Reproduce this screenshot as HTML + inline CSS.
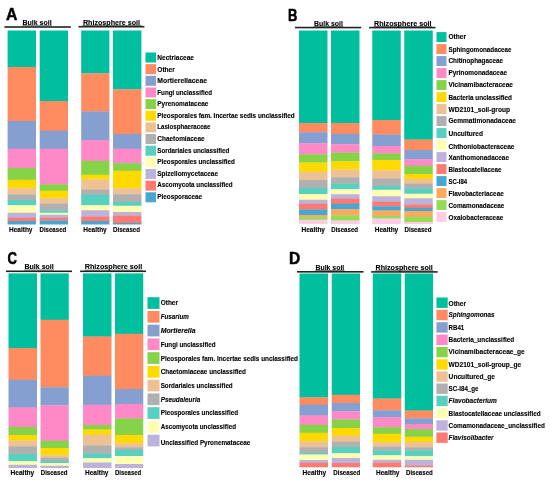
<!DOCTYPE html>
<html><head><meta charset="utf-8"><title>Figure</title>
<style>
html,body{margin:0;padding:0;background:#fff;}
body{width:550px;height:480px;overflow:hidden;}
svg{display:block;}
svg text{font-family:"Liberation Sans",sans-serif;font-weight:bold;}
</style></head><body>
<svg width="550" height="480" viewBox="0 0 550 480">
<rect x="0" y="0" width="550" height="480" fill="#ffffff"/>
<rect x="7.60" y="30.50" width="28.40" height="36.80" fill="#00BF9F"/>
<rect x="7.60" y="67.00" width="28.40" height="54.30" fill="#FF8C61"/>
<rect x="7.60" y="121.00" width="28.40" height="28.05" fill="#859FD0"/>
<rect x="7.60" y="148.75" width="28.40" height="19.55" fill="#FF89C6"/>
<rect x="7.60" y="168.00" width="28.40" height="12.05" fill="#86D34A"/>
<rect x="7.60" y="179.75" width="28.40" height="8.80" fill="#FFD900"/>
<rect x="7.60" y="188.25" width="28.40" height="6.55" fill="#EEC194"/>
<rect x="7.60" y="194.50" width="28.40" height="5.80" fill="#B0B0B0"/>
<rect x="7.60" y="200.00" width="28.40" height="5.55" fill="#57D0C0"/>
<rect x="7.60" y="205.25" width="28.40" height="7.80" fill="#FFFFB3"/>
<rect x="7.60" y="212.75" width="28.40" height="5.30" fill="#BDB2DC"/>
<rect x="7.60" y="217.75" width="28.40" height="3.55" fill="#FF7A70"/>
<rect x="7.60" y="221.00" width="28.40" height="3.50" fill="#48A7D2"/>
<rect x="39.70" y="30.50" width="28.30" height="70.80" fill="#00BF9F"/>
<rect x="39.70" y="101.00" width="28.30" height="30.05" fill="#FF8C61"/>
<rect x="39.70" y="130.75" width="28.30" height="18.30" fill="#859FD0"/>
<rect x="39.70" y="148.75" width="28.30" height="35.80" fill="#FF89C6"/>
<rect x="39.70" y="184.25" width="28.30" height="6.80" fill="#86D34A"/>
<rect x="39.70" y="190.75" width="28.30" height="7.80" fill="#FFD900"/>
<rect x="39.70" y="198.25" width="28.30" height="5.80" fill="#EEC194"/>
<rect x="39.70" y="203.75" width="28.30" height="6.80" fill="#B0B0B0"/>
<rect x="39.70" y="210.25" width="28.30" height="2.80" fill="#57D0C0"/>
<rect x="39.70" y="212.75" width="28.30" height="2.30" fill="#FFFFB3"/>
<rect x="39.70" y="214.75" width="28.30" height="3.30" fill="#BDB2DC"/>
<rect x="39.70" y="217.75" width="28.30" height="3.05" fill="#FF7A70"/>
<rect x="39.70" y="220.50" width="28.30" height="4.00" fill="#48A7D2"/>
<rect x="81.20" y="30.50" width="28.20" height="43.05" fill="#00BF9F"/>
<rect x="81.20" y="73.25" width="28.20" height="38.55" fill="#FF8C61"/>
<rect x="81.20" y="111.50" width="28.20" height="28.90" fill="#859FD0"/>
<rect x="81.20" y="140.10" width="28.20" height="20.95" fill="#FF89C6"/>
<rect x="81.20" y="160.75" width="28.20" height="14.30" fill="#86D34A"/>
<rect x="81.20" y="174.75" width="28.20" height="5.05" fill="#FFD900"/>
<rect x="81.20" y="179.50" width="28.20" height="10.55" fill="#EEC194"/>
<rect x="81.20" y="189.75" width="28.20" height="5.30" fill="#B0B0B0"/>
<rect x="81.20" y="194.75" width="28.20" height="10.80" fill="#57D0C0"/>
<rect x="81.20" y="205.25" width="28.20" height="5.30" fill="#FFFFB3"/>
<rect x="81.20" y="210.25" width="28.20" height="6.55" fill="#BDB2DC"/>
<rect x="81.20" y="216.50" width="28.20" height="4.80" fill="#FF7A70"/>
<rect x="81.20" y="221.00" width="28.20" height="3.50" fill="#48A7D2"/>
<rect x="113.00" y="30.50" width="28.40" height="59.05" fill="#00BF9F"/>
<rect x="113.00" y="89.25" width="28.40" height="45.05" fill="#FF8C61"/>
<rect x="113.00" y="134.00" width="28.40" height="15.05" fill="#859FD0"/>
<rect x="113.00" y="148.75" width="28.40" height="14.80" fill="#FF89C6"/>
<rect x="113.00" y="163.25" width="28.40" height="7.80" fill="#86D34A"/>
<rect x="113.00" y="170.75" width="28.40" height="17.80" fill="#FFD900"/>
<rect x="113.00" y="188.25" width="28.40" height="6.30" fill="#EEC194"/>
<rect x="113.00" y="194.25" width="28.40" height="8.05" fill="#B0B0B0"/>
<rect x="113.00" y="202.00" width="28.40" height="4.05" fill="#57D0C0"/>
<rect x="113.00" y="205.75" width="28.40" height="6.55" fill="#FFFFB3"/>
<rect x="113.00" y="212.00" width="28.40" height="3.80" fill="#BDB2DC"/>
<rect x="113.00" y="215.50" width="28.40" height="7.80" fill="#FF7A70"/>
<rect x="113.00" y="223.00" width="28.40" height="1.50" fill="#48A7D2"/>
<rect x="299.00" y="30.50" width="28.50" height="92.80" fill="#00BF9F"/>
<rect x="299.00" y="123.00" width="28.50" height="9.55" fill="#FF8C61"/>
<rect x="299.00" y="132.25" width="28.50" height="11.30" fill="#859FD0"/>
<rect x="299.00" y="143.25" width="28.50" height="11.30" fill="#FF89C6"/>
<rect x="299.00" y="154.25" width="28.50" height="8.55" fill="#86D34A"/>
<rect x="299.00" y="162.50" width="28.50" height="9.55" fill="#FFD900"/>
<rect x="299.00" y="171.75" width="28.50" height="8.55" fill="#EEC194"/>
<rect x="299.00" y="180.00" width="28.50" height="8.30" fill="#B0B0B0"/>
<rect x="299.00" y="188.00" width="28.50" height="6.30" fill="#57D0C0"/>
<rect x="299.00" y="194.00" width="28.50" height="6.05" fill="#FFFFB3"/>
<rect x="299.00" y="199.75" width="28.50" height="4.30" fill="#BDB2DC"/>
<rect x="299.00" y="203.75" width="28.50" height="6.05" fill="#FF7A70"/>
<rect x="299.00" y="209.50" width="28.50" height="5.80" fill="#48A7D2"/>
<rect x="299.00" y="215.00" width="28.50" height="2.55" fill="#FFA95F"/>
<rect x="299.00" y="217.25" width="28.50" height="2.80" fill="#93DC55"/>
<rect x="299.00" y="219.75" width="28.50" height="4.25" fill="#FFCBE5"/>
<rect x="331.00" y="30.50" width="28.50" height="92.80" fill="#00BF9F"/>
<rect x="331.00" y="123.00" width="28.50" height="11.05" fill="#FF8C61"/>
<rect x="331.00" y="133.75" width="28.50" height="10.80" fill="#859FD0"/>
<rect x="331.00" y="144.25" width="28.50" height="8.55" fill="#FF89C6"/>
<rect x="331.00" y="152.50" width="28.50" height="9.05" fill="#86D34A"/>
<rect x="331.00" y="161.25" width="28.50" height="8.55" fill="#FFD900"/>
<rect x="331.00" y="169.50" width="28.50" height="8.05" fill="#EEC194"/>
<rect x="331.00" y="177.25" width="28.50" height="6.55" fill="#B0B0B0"/>
<rect x="331.00" y="183.50" width="28.50" height="6.05" fill="#57D0C0"/>
<rect x="331.00" y="189.25" width="28.50" height="5.30" fill="#FFFFB3"/>
<rect x="331.00" y="194.25" width="28.50" height="4.80" fill="#BDB2DC"/>
<rect x="331.00" y="198.75" width="28.50" height="5.30" fill="#FF7A70"/>
<rect x="331.00" y="203.75" width="28.50" height="5.80" fill="#48A7D2"/>
<rect x="331.00" y="209.25" width="28.50" height="6.30" fill="#FFA95F"/>
<rect x="331.00" y="215.25" width="28.50" height="5.55" fill="#93DC55"/>
<rect x="331.00" y="220.50" width="28.50" height="3.50" fill="#FFCBE5"/>
<rect x="372.25" y="30.50" width="28.50" height="89.80" fill="#00BF9F"/>
<rect x="372.25" y="120.00" width="28.50" height="14.80" fill="#FF8C61"/>
<rect x="372.25" y="134.50" width="28.50" height="11.80" fill="#859FD0"/>
<rect x="372.25" y="146.00" width="28.50" height="7.80" fill="#FF89C6"/>
<rect x="372.25" y="153.50" width="28.50" height="6.80" fill="#86D34A"/>
<rect x="372.25" y="160.00" width="28.50" height="10.55" fill="#FFD900"/>
<rect x="372.25" y="170.25" width="28.50" height="8.55" fill="#EEC194"/>
<rect x="372.25" y="178.50" width="28.50" height="7.80" fill="#B0B0B0"/>
<rect x="372.25" y="186.00" width="28.50" height="4.05" fill="#57D0C0"/>
<rect x="372.25" y="189.75" width="28.50" height="6.80" fill="#FFFFB3"/>
<rect x="372.25" y="196.25" width="28.50" height="5.80" fill="#BDB2DC"/>
<rect x="372.25" y="201.75" width="28.50" height="4.80" fill="#FF7A70"/>
<rect x="372.25" y="206.25" width="28.50" height="4.55" fill="#48A7D2"/>
<rect x="372.25" y="210.50" width="28.50" height="5.55" fill="#FFA95F"/>
<rect x="372.25" y="215.75" width="28.50" height="3.05" fill="#93DC55"/>
<rect x="372.25" y="218.50" width="28.50" height="5.50" fill="#FFCBE5"/>
<rect x="404.25" y="30.50" width="28.50" height="109.30" fill="#00BF9F"/>
<rect x="404.25" y="139.50" width="28.50" height="10.80" fill="#FF8C61"/>
<rect x="404.25" y="150.00" width="28.50" height="9.55" fill="#859FD0"/>
<rect x="404.25" y="159.25" width="28.50" height="6.80" fill="#FF89C6"/>
<rect x="404.25" y="165.75" width="28.50" height="8.55" fill="#86D34A"/>
<rect x="404.25" y="174.00" width="28.50" height="5.30" fill="#FFD900"/>
<rect x="404.25" y="179.00" width="28.50" height="5.05" fill="#EEC194"/>
<rect x="404.25" y="183.75" width="28.50" height="4.80" fill="#B0B0B0"/>
<rect x="404.25" y="188.25" width="28.50" height="5.80" fill="#57D0C0"/>
<rect x="404.25" y="193.75" width="28.50" height="4.80" fill="#FFFFB3"/>
<rect x="404.25" y="198.25" width="28.50" height="6.55" fill="#BDB2DC"/>
<rect x="404.25" y="204.50" width="28.50" height="3.55" fill="#FF7A70"/>
<rect x="404.25" y="207.75" width="28.50" height="3.55" fill="#48A7D2"/>
<rect x="404.25" y="211.00" width="28.50" height="6.05" fill="#FFA95F"/>
<rect x="404.25" y="216.75" width="28.50" height="5.55" fill="#93DC55"/>
<rect x="404.25" y="222.00" width="28.50" height="2.00" fill="#FFCBE5"/>
<rect x="8.50" y="273.40" width="28.50" height="74.90" fill="#00BF9F"/>
<rect x="8.50" y="348.00" width="28.50" height="32.05" fill="#FF8C61"/>
<rect x="8.50" y="379.75" width="28.50" height="28.05" fill="#859FD0"/>
<rect x="8.50" y="407.50" width="28.50" height="19.80" fill="#FF89C6"/>
<rect x="8.50" y="427.00" width="28.50" height="8.30" fill="#86D34A"/>
<rect x="8.50" y="435.00" width="28.50" height="5.80" fill="#FFD900"/>
<rect x="8.50" y="440.50" width="28.50" height="6.05" fill="#EEC194"/>
<rect x="8.50" y="446.25" width="28.50" height="8.05" fill="#B0B0B0"/>
<rect x="8.50" y="454.00" width="28.50" height="7.55" fill="#57D0C0"/>
<rect x="8.50" y="461.25" width="28.50" height="3.80" fill="#FFFFB3"/>
<rect x="8.50" y="464.75" width="28.50" height="3.25" fill="#BDB2DC"/>
<rect x="40.50" y="273.40" width="28.25" height="46.65" fill="#00BF9F"/>
<rect x="40.50" y="319.75" width="28.25" height="67.80" fill="#FF8C61"/>
<rect x="40.50" y="387.25" width="28.25" height="18.30" fill="#859FD0"/>
<rect x="40.50" y="405.25" width="28.25" height="35.80" fill="#FF89C6"/>
<rect x="40.50" y="440.75" width="28.25" height="7.55" fill="#86D34A"/>
<rect x="40.50" y="448.00" width="28.25" height="7.55" fill="#FFD900"/>
<rect x="40.50" y="455.25" width="28.25" height="2.80" fill="#EEC194"/>
<rect x="40.50" y="457.75" width="28.25" height="3.30" fill="#B0B0B0"/>
<rect x="40.50" y="460.75" width="28.25" height="2.55" fill="#57D0C0"/>
<rect x="40.50" y="463.00" width="28.25" height="3.05" fill="#FFFFB3"/>
<rect x="40.50" y="465.75" width="28.25" height="2.25" fill="#BDB2DC"/>
<rect x="83.00" y="273.40" width="28.50" height="63.40" fill="#00BF9F"/>
<rect x="83.00" y="336.50" width="28.50" height="39.55" fill="#FF8C61"/>
<rect x="83.00" y="375.75" width="28.50" height="29.30" fill="#859FD0"/>
<rect x="83.00" y="404.75" width="28.50" height="20.55" fill="#FF89C6"/>
<rect x="83.00" y="425.00" width="28.50" height="4.80" fill="#86D34A"/>
<rect x="83.00" y="429.50" width="28.50" height="5.55" fill="#FFD900"/>
<rect x="83.00" y="434.75" width="28.50" height="11.05" fill="#EEC194"/>
<rect x="83.00" y="445.50" width="28.50" height="8.30" fill="#B0B0B0"/>
<rect x="83.00" y="453.50" width="28.50" height="5.05" fill="#57D0C0"/>
<rect x="83.00" y="458.25" width="28.50" height="4.55" fill="#FFFFB3"/>
<rect x="83.00" y="462.50" width="28.50" height="5.50" fill="#BDB2DC"/>
<rect x="115.00" y="273.40" width="28.25" height="60.65" fill="#00BF9F"/>
<rect x="115.00" y="333.75" width="28.25" height="55.55" fill="#FF8C61"/>
<rect x="115.00" y="389.00" width="28.25" height="15.30" fill="#859FD0"/>
<rect x="115.00" y="404.00" width="28.25" height="14.80" fill="#FF89C6"/>
<rect x="115.00" y="418.50" width="28.25" height="16.80" fill="#86D34A"/>
<rect x="115.00" y="435.00" width="28.25" height="8.55" fill="#FFD900"/>
<rect x="115.00" y="443.25" width="28.25" height="4.30" fill="#EEC194"/>
<rect x="115.00" y="447.25" width="28.25" height="3.05" fill="#B0B0B0"/>
<rect x="115.00" y="450.00" width="28.25" height="6.30" fill="#57D0C0"/>
<rect x="115.00" y="456.00" width="28.25" height="8.30" fill="#FFFFB3"/>
<rect x="115.00" y="464.00" width="28.25" height="4.00" fill="#BDB2DC"/>
<rect x="299.50" y="273.50" width="28.50" height="124.05" fill="#00BF9F"/>
<rect x="299.50" y="397.25" width="28.50" height="7.80" fill="#FF8C61"/>
<rect x="299.50" y="404.75" width="28.50" height="11.05" fill="#859FD0"/>
<rect x="299.50" y="415.50" width="28.50" height="9.55" fill="#FF89C6"/>
<rect x="299.50" y="424.75" width="28.50" height="8.30" fill="#86D34A"/>
<rect x="299.50" y="432.75" width="28.50" height="8.80" fill="#FFD900"/>
<rect x="299.50" y="441.25" width="28.50" height="6.30" fill="#EEC194"/>
<rect x="299.50" y="447.25" width="28.50" height="6.05" fill="#B0B0B0"/>
<rect x="299.50" y="453.00" width="28.50" height="1.80" fill="#57D0C0"/>
<rect x="299.50" y="454.50" width="28.50" height="5.80" fill="#FFFFB3"/>
<rect x="299.50" y="460.00" width="28.50" height="3.05" fill="#BDB2DC"/>
<rect x="299.50" y="462.75" width="28.50" height="4.55" fill="#FF7A70"/>
<rect x="331.75" y="273.50" width="28.25" height="121.55" fill="#00BF9F"/>
<rect x="331.75" y="394.75" width="28.25" height="8.55" fill="#FF8C61"/>
<rect x="331.75" y="403.00" width="28.25" height="8.55" fill="#859FD0"/>
<rect x="331.75" y="411.25" width="28.25" height="8.55" fill="#FF89C6"/>
<rect x="331.75" y="419.50" width="28.25" height="8.80" fill="#86D34A"/>
<rect x="331.75" y="428.00" width="28.25" height="8.05" fill="#FFD900"/>
<rect x="331.75" y="435.75" width="28.25" height="6.30" fill="#EEC194"/>
<rect x="331.75" y="441.75" width="28.25" height="5.55" fill="#B0B0B0"/>
<rect x="331.75" y="447.00" width="28.25" height="6.55" fill="#57D0C0"/>
<rect x="331.75" y="453.25" width="28.25" height="5.05" fill="#FFFFB3"/>
<rect x="331.75" y="458.00" width="28.25" height="5.30" fill="#BDB2DC"/>
<rect x="331.75" y="463.00" width="28.25" height="4.30" fill="#FF7A70"/>
<rect x="372.75" y="273.50" width="28.50" height="125.30" fill="#00BF9F"/>
<rect x="372.75" y="398.50" width="28.50" height="12.05" fill="#FF8C61"/>
<rect x="372.75" y="410.25" width="28.50" height="7.30" fill="#859FD0"/>
<rect x="372.75" y="417.25" width="28.50" height="10.30" fill="#FF89C6"/>
<rect x="372.75" y="427.25" width="28.50" height="6.80" fill="#86D34A"/>
<rect x="372.75" y="433.75" width="28.50" height="8.80" fill="#FFD900"/>
<rect x="372.75" y="442.25" width="28.50" height="4.55" fill="#EEC194"/>
<rect x="372.75" y="446.50" width="28.50" height="4.30" fill="#B0B0B0"/>
<rect x="372.75" y="450.50" width="28.50" height="5.05" fill="#57D0C0"/>
<rect x="372.75" y="455.25" width="28.50" height="4.80" fill="#FFFFB3"/>
<rect x="372.75" y="459.75" width="28.50" height="3.05" fill="#BDB2DC"/>
<rect x="372.75" y="462.50" width="28.50" height="4.80" fill="#FF7A70"/>
<rect x="404.75" y="273.50" width="28.25" height="137.30" fill="#00BF9F"/>
<rect x="404.75" y="410.50" width="28.25" height="8.05" fill="#FF8C61"/>
<rect x="404.75" y="418.25" width="28.25" height="6.05" fill="#859FD0"/>
<rect x="404.75" y="424.00" width="28.25" height="5.30" fill="#FF89C6"/>
<rect x="404.75" y="429.00" width="28.25" height="8.05" fill="#86D34A"/>
<rect x="404.75" y="436.75" width="28.25" height="5.55" fill="#FFD900"/>
<rect x="404.75" y="442.00" width="28.25" height="5.55" fill="#EEC194"/>
<rect x="404.75" y="447.25" width="28.25" height="3.30" fill="#B0B0B0"/>
<rect x="404.75" y="450.25" width="28.25" height="6.30" fill="#57D0C0"/>
<rect x="404.75" y="456.25" width="28.25" height="3.80" fill="#FFFFB3"/>
<rect x="404.75" y="459.75" width="28.25" height="6.15" fill="#BDB2DC"/>
<rect x="404.75" y="465.60" width="28.25" height="1.70" fill="#FF7A70"/>
<rect x="4.40" y="26.20" width="66.40" height="1.60" fill="#222"/>
<rect x="78.50" y="25.90" width="65.90" height="1.60" fill="#222"/>
<rect x="295.00" y="26.75" width="66.25" height="1.60" fill="#222"/>
<rect x="369.10" y="26.80" width="66.40" height="1.60" fill="#222"/>
<rect x="6.00" y="270.50" width="66.00" height="1.60" fill="#222"/>
<rect x="80.10" y="270.50" width="65.90" height="1.60" fill="#222"/>
<rect x="297.00" y="271.00" width="66.50" height="1.60" fill="#222"/>
<rect x="371.20" y="271.10" width="66.40" height="1.60" fill="#222"/>
<text x="5.90" y="20.40" font-size="15.8" textLength="11.40" lengthAdjust="spacingAndGlyphs" stroke="#000" stroke-width="0.5" stroke-linejoin="round" fill="#000">A</text>
<text x="288.00" y="20.60" font-size="15.8" textLength="9.40" lengthAdjust="spacingAndGlyphs" stroke="#000" stroke-width="0.5" stroke-linejoin="round" fill="#000">B</text>
<text x="7.50" y="264.30" font-size="15.8" textLength="9.50" lengthAdjust="spacingAndGlyphs" stroke="#000" stroke-width="0.5" stroke-linejoin="round" fill="#000">C</text>
<text x="289.00" y="264.30" font-size="15.8" textLength="11.20" lengthAdjust="spacingAndGlyphs" stroke="#000" stroke-width="0.5" stroke-linejoin="round" fill="#000">D</text>
<text x="22.50" y="25.00" font-size="7.2" textLength="29.10" lengthAdjust="spacingAndGlyphs" stroke="#000" stroke-width="0.12" stroke-linejoin="round" fill="#000">Bulk soil</text>
<rect x="22.20" y="25.50" width="29.70" height="0.60" fill="#222"/>
<text x="82.90" y="24.80" font-size="7.2" textLength="57.10" lengthAdjust="spacingAndGlyphs" stroke="#000" stroke-width="0.12" stroke-linejoin="round" fill="#000">Rhizosphere soil</text>
<rect x="82.60" y="25.30" width="58.70" height="0.60" fill="#222"/>
<text x="314.10" y="25.70" font-size="7.2" textLength="28.80" lengthAdjust="spacingAndGlyphs" stroke="#000" stroke-width="0.12" stroke-linejoin="round" fill="#000">Bulk soil</text>
<rect x="313.80" y="26.20" width="29.40" height="0.60" fill="#222"/>
<text x="374.00" y="25.70" font-size="7.2" textLength="57.60" lengthAdjust="spacingAndGlyphs" stroke="#000" stroke-width="0.12" stroke-linejoin="round" fill="#000">Rhizosphere soil</text>
<rect x="373.70" y="26.20" width="58.20" height="0.60" fill="#222"/>
<text x="24.50" y="269.20" font-size="7.2" textLength="29.25" lengthAdjust="spacingAndGlyphs" stroke="#000" stroke-width="0.12" stroke-linejoin="round" fill="#000">Bulk soil</text>
<rect x="24.20" y="269.70" width="29.85" height="0.60" fill="#222"/>
<text x="84.75" y="269.30" font-size="7.2" textLength="57.45" lengthAdjust="spacingAndGlyphs" stroke="#000" stroke-width="0.12" stroke-linejoin="round" fill="#000">Rhizosphere soil</text>
<rect x="84.45" y="269.80" width="58.05" height="0.60" fill="#222"/>
<text x="315.50" y="269.70" font-size="7.2" textLength="28.75" lengthAdjust="spacingAndGlyphs" stroke="#000" stroke-width="0.12" stroke-linejoin="round" fill="#000">Bulk soil</text>
<rect x="315.20" y="270.20" width="29.35" height="0.60" fill="#222"/>
<text x="375.50" y="270.00" font-size="7.2" textLength="57.30" lengthAdjust="spacingAndGlyphs" stroke="#000" stroke-width="0.12" stroke-linejoin="round" fill="#000">Rhizosphere soil</text>
<rect x="375.20" y="270.50" width="57.90" height="0.60" fill="#222"/>
<text x="9.00" y="231.60" font-size="6.6" textLength="23.50" lengthAdjust="spacingAndGlyphs" stroke="#000" stroke-width="0.12" stroke-linejoin="round" fill="#000">Healthy</text>
<text x="83.25" y="231.60" font-size="6.6" textLength="23.50" lengthAdjust="spacingAndGlyphs" stroke="#000" stroke-width="0.12" stroke-linejoin="round" fill="#000">Healthy</text>
<text x="39.50" y="231.60" font-size="6.6" textLength="26.75" lengthAdjust="spacingAndGlyphs" stroke="#000" stroke-width="0.12" stroke-linejoin="round" fill="#000">Diseased</text>
<text x="113.00" y="231.60" font-size="6.6" textLength="27.00" lengthAdjust="spacingAndGlyphs" stroke="#000" stroke-width="0.12" stroke-linejoin="round" fill="#000">Diseased</text>
<text x="301.50" y="231.60" font-size="6.6" textLength="23.50" lengthAdjust="spacingAndGlyphs" stroke="#000" stroke-width="0.12" stroke-linejoin="round" fill="#000">Healthy</text>
<text x="374.75" y="231.60" font-size="6.6" textLength="23.50" lengthAdjust="spacingAndGlyphs" stroke="#000" stroke-width="0.12" stroke-linejoin="round" fill="#000">Healthy</text>
<text x="331.25" y="231.60" font-size="6.6" textLength="26.75" lengthAdjust="spacingAndGlyphs" stroke="#000" stroke-width="0.12" stroke-linejoin="round" fill="#000">Diseased</text>
<text x="404.50" y="231.60" font-size="6.6" textLength="27.00" lengthAdjust="spacingAndGlyphs" stroke="#000" stroke-width="0.12" stroke-linejoin="round" fill="#000">Diseased</text>
<text x="10.50" y="475.40" font-size="6.6" textLength="23.75" lengthAdjust="spacingAndGlyphs" stroke="#000" stroke-width="0.12" stroke-linejoin="round" fill="#000">Healthy</text>
<text x="85.00" y="475.40" font-size="6.6" textLength="23.50" lengthAdjust="spacingAndGlyphs" stroke="#000" stroke-width="0.12" stroke-linejoin="round" fill="#000">Healthy</text>
<text x="40.75" y="475.40" font-size="6.6" textLength="26.75" lengthAdjust="spacingAndGlyphs" stroke="#000" stroke-width="0.12" stroke-linejoin="round" fill="#000">Diseased</text>
<text x="115.00" y="475.40" font-size="6.6" textLength="26.25" lengthAdjust="spacingAndGlyphs" stroke="#000" stroke-width="0.12" stroke-linejoin="round" fill="#000">Diseased</text>
<text x="302.50" y="475.40" font-size="6.6" textLength="23.75" lengthAdjust="spacingAndGlyphs" stroke="#000" stroke-width="0.12" stroke-linejoin="round" fill="#000">Healthy</text>
<text x="376.00" y="475.40" font-size="6.6" textLength="23.50" lengthAdjust="spacingAndGlyphs" stroke="#000" stroke-width="0.12" stroke-linejoin="round" fill="#000">Healthy</text>
<text x="333.25" y="475.40" font-size="6.6" textLength="27.00" lengthAdjust="spacingAndGlyphs" stroke="#000" stroke-width="0.12" stroke-linejoin="round" fill="#000">Diseased</text>
<text x="406.00" y="475.40" font-size="6.6" textLength="26.75" lengthAdjust="spacingAndGlyphs" stroke="#000" stroke-width="0.12" stroke-linejoin="round" fill="#000">Diseased</text>
<rect x="145.50" y="52.50" width="10.50" height="10.00" fill="#00BF9F"/>
<text x="157.30" y="60.00" font-size="6.6" textLength="36.70" lengthAdjust="spacingAndGlyphs" stroke="#000" stroke-width="0.12" stroke-linejoin="round" fill="#000">Nectriaceae</text>
<rect x="145.50" y="64.15" width="10.50" height="10.00" fill="#FF8C61"/>
<text x="157.30" y="71.58" font-size="6.6" textLength="17.50" lengthAdjust="spacingAndGlyphs" stroke="#000" stroke-width="0.12" stroke-linejoin="round" fill="#000">Other</text>
<rect x="145.50" y="75.80" width="10.50" height="10.00" fill="#859FD0"/>
<text x="157.30" y="83.16" font-size="6.6" textLength="49.70" lengthAdjust="spacingAndGlyphs" stroke="#000" stroke-width="0.12" stroke-linejoin="round" fill="#000">Mortierellaceae</text>
<rect x="145.50" y="87.45" width="10.50" height="10.00" fill="#FF89C6"/>
<text x="157.30" y="94.74" font-size="6.6" textLength="54.70" lengthAdjust="spacingAndGlyphs" stroke="#000" stroke-width="0.12" stroke-linejoin="round" fill="#000">Fungi unclassified</text>
<rect x="145.50" y="99.10" width="10.50" height="10.00" fill="#86D34A"/>
<text x="157.30" y="106.32" font-size="6.6" textLength="51.10" lengthAdjust="spacingAndGlyphs" stroke="#000" stroke-width="0.12" stroke-linejoin="round" fill="#000">Pyrenomataceae</text>
<rect x="145.50" y="110.75" width="10.50" height="10.00" fill="#FFD900"/>
<text x="157.30" y="117.90" font-size="6.6" textLength="137.45" lengthAdjust="spacingAndGlyphs" stroke="#000" stroke-width="0.12" stroke-linejoin="round" fill="#000">Pleosporales fam. Incertae sedis unclassified</text>
<rect x="145.50" y="122.40" width="10.50" height="10.00" fill="#EEC194"/>
<text x="157.30" y="129.48" font-size="6.6" textLength="53.10" lengthAdjust="spacingAndGlyphs" stroke="#000" stroke-width="0.12" stroke-linejoin="round" fill="#000">Lasiosphaeraceae</text>
<rect x="145.50" y="134.05" width="10.50" height="10.00" fill="#B0B0B0"/>
<text x="157.30" y="141.06" font-size="6.6" textLength="47.30" lengthAdjust="spacingAndGlyphs" stroke="#000" stroke-width="0.12" stroke-linejoin="round" fill="#000">Chaetomiaceae</text>
<rect x="145.50" y="145.70" width="10.50" height="10.00" fill="#57D0C0"/>
<text x="157.30" y="152.64" font-size="6.6" textLength="72.10" lengthAdjust="spacingAndGlyphs" stroke="#000" stroke-width="0.12" stroke-linejoin="round" fill="#000">Sordariales unclassified</text>
<rect x="145.50" y="157.35" width="10.50" height="10.00" fill="#FFFFB3"/>
<text x="157.30" y="164.22" font-size="6.6" textLength="77.70" lengthAdjust="spacingAndGlyphs" stroke="#000" stroke-width="0.12" stroke-linejoin="round" fill="#000">Pleosporales unclassified</text>
<rect x="145.50" y="169.00" width="10.50" height="10.00" fill="#BDB2DC"/>
<text x="157.30" y="175.80" font-size="6.6" textLength="60.70" lengthAdjust="spacingAndGlyphs" stroke="#000" stroke-width="0.12" stroke-linejoin="round" fill="#000">Spizellomycetaceae</text>
<rect x="145.50" y="180.65" width="10.50" height="10.00" fill="#FF7A70"/>
<text x="157.30" y="187.38" font-size="6.6" textLength="75.30" lengthAdjust="spacingAndGlyphs" stroke="#000" stroke-width="0.12" stroke-linejoin="round" fill="#000">Ascomycota unclassified</text>
<rect x="145.50" y="192.30" width="10.50" height="10.00" fill="#48A7D2"/>
<text x="157.30" y="198.96" font-size="6.6" textLength="44.70" lengthAdjust="spacingAndGlyphs" stroke="#000" stroke-width="0.12" stroke-linejoin="round" fill="#000">Pleosporaceae</text>
<rect x="436.50" y="32.10" width="10.00" height="9.90" fill="#00BF9F"/>
<text x="448.50" y="39.40" font-size="6.6" textLength="17.50" lengthAdjust="spacingAndGlyphs" stroke="#000" stroke-width="0.12" stroke-linejoin="round" fill="#000">Other</text>
<rect x="436.50" y="44.10" width="10.00" height="9.90" fill="#FF8C61"/>
<text x="448.50" y="51.60" font-size="6.6" textLength="63.10" lengthAdjust="spacingAndGlyphs" stroke="#000" stroke-width="0.12" stroke-linejoin="round" fill="#000">Sphingomonadaceae</text>
<rect x="436.50" y="56.10" width="10.00" height="9.90" fill="#859FD0"/>
<text x="448.50" y="63.00" font-size="6.6" textLength="54.50" lengthAdjust="spacingAndGlyphs" stroke="#000" stroke-width="0.12" stroke-linejoin="round" fill="#000">Chitinophagaceae</text>
<rect x="436.50" y="68.10" width="10.00" height="9.90" fill="#FF89C6"/>
<text x="448.50" y="74.50" font-size="6.6" textLength="58.50" lengthAdjust="spacingAndGlyphs" stroke="#000" stroke-width="0.12" stroke-linejoin="round" fill="#000">Pyrinomonadaceae</text>
<rect x="436.50" y="80.10" width="10.00" height="9.90" fill="#86D34A"/>
<text x="448.50" y="87.10" font-size="6.6" textLength="64.50" lengthAdjust="spacingAndGlyphs" stroke="#000" stroke-width="0.12" stroke-linejoin="round" fill="#000">Vicinamibacteraceae</text>
<rect x="436.50" y="92.10" width="10.00" height="9.90" fill="#FFD900"/>
<text x="448.50" y="99.50" font-size="6.6" textLength="63.50" lengthAdjust="spacingAndGlyphs" stroke="#000" stroke-width="0.12" stroke-linejoin="round" fill="#000">Bacteria unclassified</text>
<rect x="436.50" y="104.10" width="10.00" height="9.90" fill="#EEC194"/>
<text x="448.50" y="111.60" font-size="6.6" textLength="61.50" lengthAdjust="spacingAndGlyphs" stroke="#000" stroke-width="0.12" stroke-linejoin="round" fill="#000">WD2101_soil-group</text>
<rect x="436.50" y="116.10" width="10.00" height="9.90" fill="#B0B0B0"/>
<text x="448.50" y="123.10" font-size="6.6" textLength="67.50" lengthAdjust="spacingAndGlyphs" stroke="#000" stroke-width="0.12" stroke-linejoin="round" fill="#000">Gemmatimonadaceae</text>
<rect x="436.50" y="128.10" width="10.00" height="9.90" fill="#57D0C0"/>
<text x="448.50" y="135.60" font-size="6.6" textLength="34.50" lengthAdjust="spacingAndGlyphs" stroke="#000" stroke-width="0.12" stroke-linejoin="round" fill="#000">Uncultured</text>
<rect x="436.50" y="140.10" width="10.00" height="9.90" fill="#FFFFB3"/>
<text x="448.50" y="148.80" font-size="6.6" textLength="65.90" lengthAdjust="spacingAndGlyphs" stroke="#000" stroke-width="0.12" stroke-linejoin="round" fill="#000">Chthoniobacteraceae</text>
<rect x="436.50" y="152.10" width="10.00" height="9.90" fill="#BDB2DC"/>
<text x="448.50" y="160.00" font-size="6.6" textLength="60.50" lengthAdjust="spacingAndGlyphs" stroke="#000" stroke-width="0.12" stroke-linejoin="round" fill="#000">Xanthomonadaceae</text>
<rect x="436.50" y="164.10" width="10.00" height="9.90" fill="#FF7A70"/>
<text x="448.50" y="172.00" font-size="6.6" textLength="53.10" lengthAdjust="spacingAndGlyphs" stroke="#000" stroke-width="0.12" stroke-linejoin="round" fill="#000">Blastocatellaceae</text>
<rect x="436.50" y="176.10" width="10.00" height="9.90" fill="#48A7D2"/>
<text x="448.50" y="183.80" font-size="6.6" textLength="18.50" lengthAdjust="spacingAndGlyphs" stroke="#000" stroke-width="0.12" stroke-linejoin="round" fill="#000">SC-I84</text>
<rect x="436.50" y="188.10" width="10.00" height="9.90" fill="#FFA95F"/>
<text x="448.50" y="195.80" font-size="6.6" textLength="55.25" lengthAdjust="spacingAndGlyphs" stroke="#000" stroke-width="0.12" stroke-linejoin="round" fill="#000">Flavobacteriaceae</text>
<rect x="436.50" y="200.10" width="10.00" height="9.90" fill="#93DC55"/>
<text x="448.50" y="207.60" font-size="6.6" textLength="55.75" lengthAdjust="spacingAndGlyphs" stroke="#000" stroke-width="0.12" stroke-linejoin="round" fill="#000">Comamonadaceae</text>
<rect x="436.50" y="212.10" width="10.00" height="9.90" fill="#FFCBE5"/>
<text x="448.50" y="219.90" font-size="6.6" textLength="54.75" lengthAdjust="spacingAndGlyphs" stroke="#000" stroke-width="0.12" stroke-linejoin="round" fill="#000">Oxalobacteraceae</text>
<rect x="147.50" y="297.20" width="12.00" height="11.70" fill="#00BF9F"/>
<text x="160.70" y="305.10" font-size="6.9" textLength="17.30" lengthAdjust="spacingAndGlyphs" stroke="#000" stroke-width="0.12" stroke-linejoin="round" fill="#000">Other</text>
<rect x="147.50" y="310.95" width="12.00" height="11.70" fill="#FF8C61"/>
<text x="160.70" y="319.20" font-size="6.9" textLength="28.05" lengthAdjust="spacingAndGlyphs" font-style="italic" stroke="#000" stroke-width="0.12" stroke-linejoin="round" fill="#000">Fusarium</text>
<rect x="147.50" y="324.70" width="12.00" height="11.70" fill="#859FD0"/>
<text x="160.70" y="332.50" font-size="6.9" textLength="34.80" lengthAdjust="spacingAndGlyphs" font-style="italic" stroke="#000" stroke-width="0.12" stroke-linejoin="round" fill="#000">Mortierella</text>
<rect x="147.50" y="338.45" width="12.00" height="11.70" fill="#FF89C6"/>
<text x="160.70" y="346.60" font-size="6.9" textLength="54.80" lengthAdjust="spacingAndGlyphs" stroke="#000" stroke-width="0.12" stroke-linejoin="round" fill="#000">Fungi unclassified</text>
<rect x="147.50" y="352.20" width="12.00" height="11.70" fill="#86D34A"/>
<text x="160.70" y="360.60" font-size="6.9" textLength="137.30" lengthAdjust="spacingAndGlyphs" stroke="#000" stroke-width="0.12" stroke-linejoin="round" fill="#000">Pleosporales fam. Incertae sedis unclassified</text>
<rect x="147.50" y="365.95" width="12.00" height="11.70" fill="#FFD900"/>
<text x="160.70" y="374.40" font-size="6.9" textLength="85.30" lengthAdjust="spacingAndGlyphs" stroke="#000" stroke-width="0.12" stroke-linejoin="round" fill="#000">Chaetomiaceae unclassified</text>
<rect x="147.50" y="379.70" width="12.00" height="11.70" fill="#EEC194"/>
<text x="160.70" y="387.50" font-size="6.9" textLength="72.00" lengthAdjust="spacingAndGlyphs" stroke="#000" stroke-width="0.12" stroke-linejoin="round" fill="#000">Sordariales unclassified</text>
<rect x="147.50" y="393.45" width="12.00" height="11.70" fill="#B0B0B0"/>
<text x="160.70" y="401.50" font-size="6.9" textLength="39.50" lengthAdjust="spacingAndGlyphs" font-style="italic" stroke="#000" stroke-width="0.12" stroke-linejoin="round" fill="#000">Pseudaleuria</text>
<rect x="147.50" y="407.20" width="12.00" height="11.70" fill="#57D0C0"/>
<text x="160.70" y="414.60" font-size="6.9" textLength="77.30" lengthAdjust="spacingAndGlyphs" stroke="#000" stroke-width="0.12" stroke-linejoin="round" fill="#000">Pleosporales unclassified</text>
<rect x="147.50" y="420.95" width="12.00" height="11.70" fill="#FFFFB3"/>
<text x="160.70" y="429.10" font-size="6.9" textLength="75.30" lengthAdjust="spacingAndGlyphs" stroke="#000" stroke-width="0.12" stroke-linejoin="round" fill="#000">Ascomycota unclassified</text>
<rect x="147.50" y="434.70" width="12.00" height="11.70" fill="#BDB2DC"/>
<text x="160.70" y="444.60" font-size="6.9" textLength="89.70" lengthAdjust="spacingAndGlyphs" stroke="#000" stroke-width="0.12" stroke-linejoin="round" fill="#000">Unclassified Pyronemataceae</text>
<rect x="436.40" y="297.50" width="11.30" height="10.40" fill="#00BF9F"/>
<text x="448.60" y="305.50" font-size="6.9" textLength="17.40" lengthAdjust="spacingAndGlyphs" stroke="#000" stroke-width="0.12" stroke-linejoin="round" fill="#000">Other</text>
<rect x="436.40" y="309.80" width="11.30" height="10.40" fill="#FF8C61"/>
<text x="448.60" y="317.10" font-size="6.9" textLength="45.90" lengthAdjust="spacingAndGlyphs" font-style="italic" stroke="#000" stroke-width="0.12" stroke-linejoin="round" fill="#000">Sphingomonas</text>
<rect x="436.40" y="322.20" width="11.30" height="10.40" fill="#859FD0"/>
<text x="448.60" y="330.00" font-size="6.9" textLength="15.65" lengthAdjust="spacingAndGlyphs" stroke="#000" stroke-width="0.12" stroke-linejoin="round" fill="#000">RB41</text>
<rect x="436.40" y="334.60" width="11.30" height="10.40" fill="#FF89C6"/>
<text x="448.60" y="341.80" font-size="6.9" textLength="65.65" lengthAdjust="spacingAndGlyphs" stroke="#000" stroke-width="0.12" stroke-linejoin="round" fill="#000">Bacteria_unclassified</text>
<rect x="436.40" y="346.90" width="11.30" height="10.40" fill="#86D34A"/>
<text x="448.60" y="354.00" font-size="6.9" textLength="76.15" lengthAdjust="spacingAndGlyphs" stroke="#000" stroke-width="0.12" stroke-linejoin="round" fill="#000">Vicinamibacteraceae_ge</text>
<rect x="436.40" y="359.30" width="11.30" height="10.40" fill="#FFD900"/>
<text x="448.60" y="367.00" font-size="6.9" textLength="72.50" lengthAdjust="spacingAndGlyphs" stroke="#000" stroke-width="0.12" stroke-linejoin="round" fill="#000">WD2101_soil-group_ge</text>
<rect x="436.40" y="371.40" width="11.30" height="10.40" fill="#EEC194"/>
<text x="448.60" y="379.20" font-size="6.9" textLength="46.40" lengthAdjust="spacingAndGlyphs" stroke="#000" stroke-width="0.12" stroke-linejoin="round" fill="#000">Uncultured_ge</text>
<rect x="436.40" y="383.50" width="11.30" height="10.40" fill="#B0B0B0"/>
<text x="448.60" y="391.10" font-size="6.9" textLength="29.90" lengthAdjust="spacingAndGlyphs" stroke="#000" stroke-width="0.12" stroke-linejoin="round" fill="#000">SC-I84_ge</text>
<rect x="436.40" y="395.75" width="11.30" height="10.40" fill="#57D0C0"/>
<text x="448.60" y="402.90" font-size="6.9" textLength="48.20" lengthAdjust="spacingAndGlyphs" font-style="italic" stroke="#000" stroke-width="0.12" stroke-linejoin="round" fill="#000">Flavobacterium</text>
<rect x="436.40" y="408.00" width="11.30" height="10.40" fill="#FFFFB3"/>
<text x="448.60" y="415.70" font-size="6.9" textLength="92.00" lengthAdjust="spacingAndGlyphs" stroke="#000" stroke-width="0.12" stroke-linejoin="round" fill="#000">Blastocatellaceae unclassified</text>
<rect x="436.40" y="420.25" width="11.30" height="10.40" fill="#BDB2DC"/>
<text x="448.60" y="428.10" font-size="6.9" textLength="96.20" lengthAdjust="spacingAndGlyphs" stroke="#000" stroke-width="0.12" stroke-linejoin="round" fill="#000">Comamonadaceae_unclassified</text>
<rect x="436.40" y="432.50" width="11.30" height="10.40" fill="#FF7A70"/>
<text x="448.60" y="439.80" font-size="6.9" textLength="44.90" lengthAdjust="spacingAndGlyphs" font-style="italic" stroke="#000" stroke-width="0.12" stroke-linejoin="round" fill="#000">Flavisolibacter</text>
</svg>
</body></html>
